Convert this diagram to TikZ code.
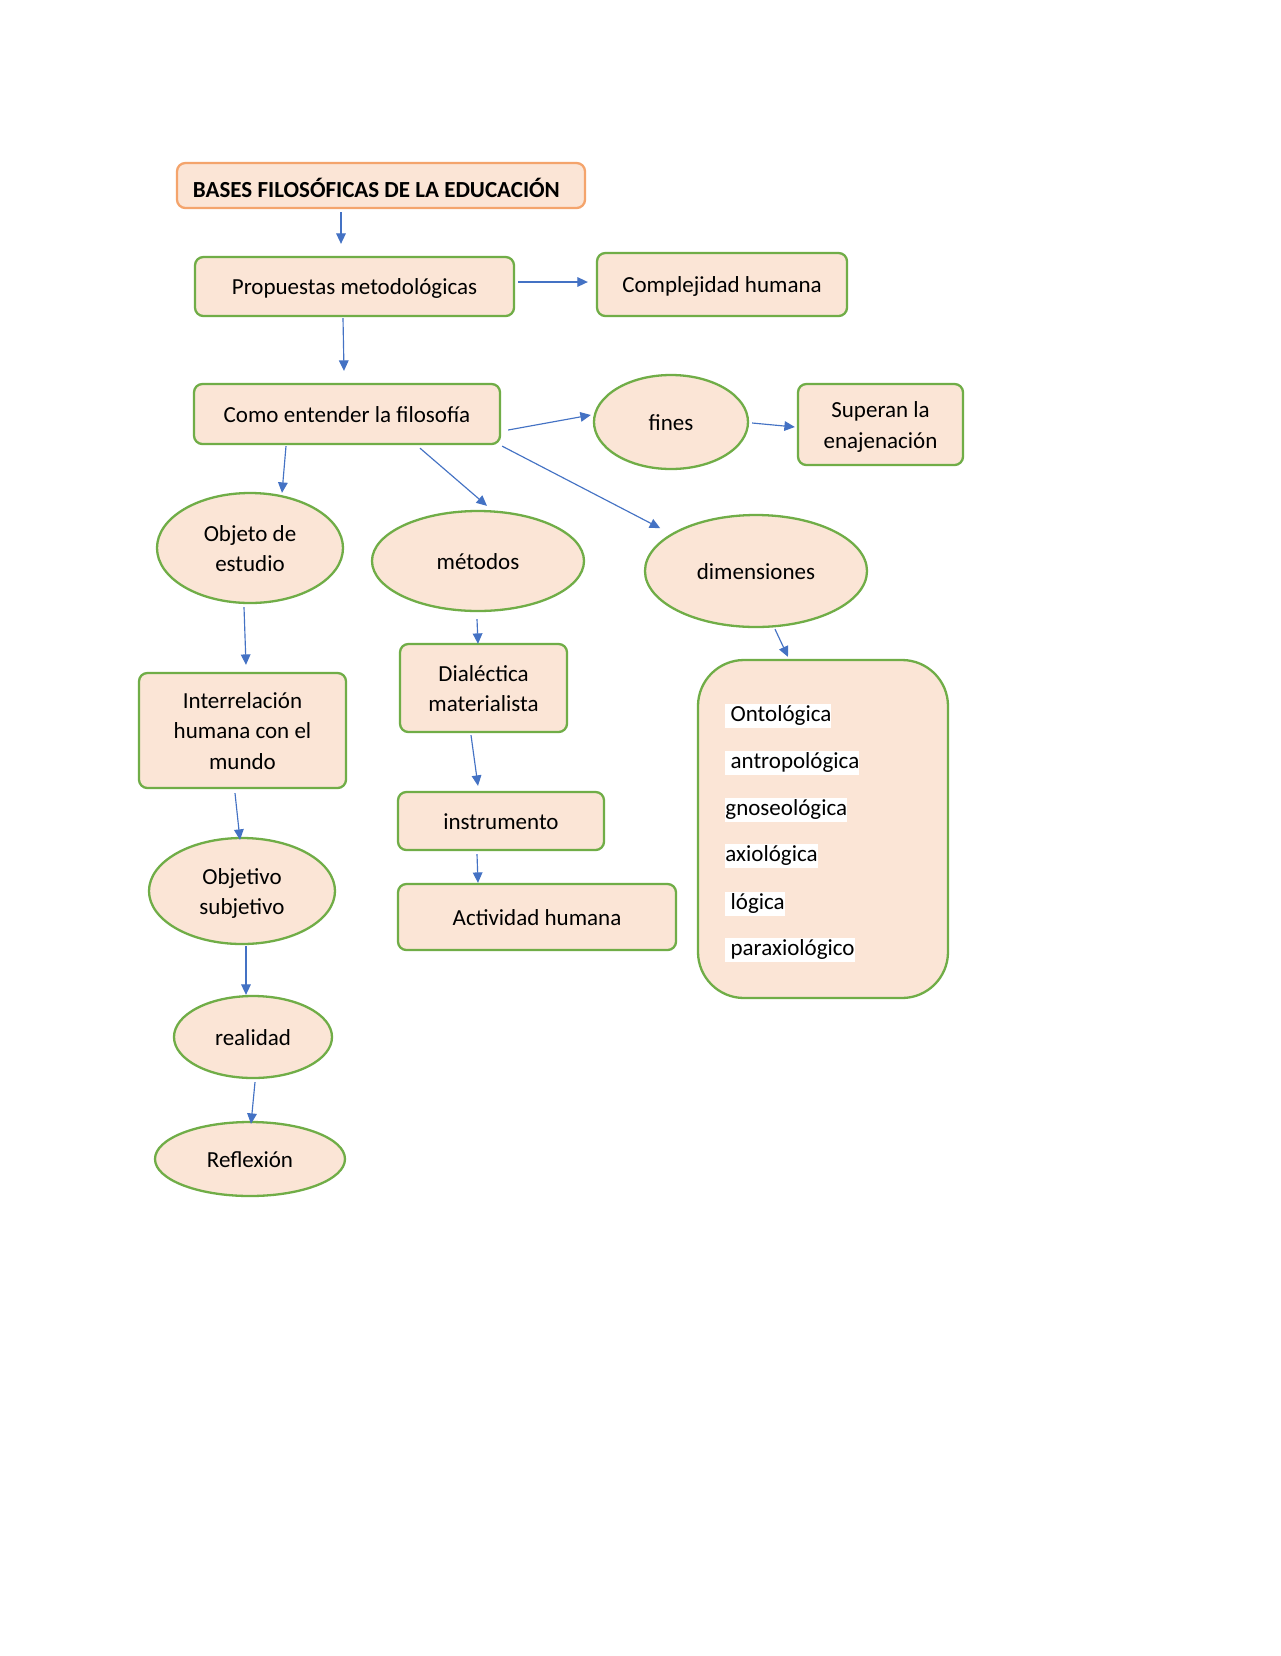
\documentclass[tikz,border=0pt]{standalone}
\usepackage{fontspec}
\setmainfont{Carlito}
\usetikzlibrary{shapes.geometric,arrows.meta,calc}
\newcommand{\px}{0.478125pt}
\newcommand{\T}[1]{\raisebox{-1.15pt}[\height][\depth]{\begin{tabular}{@{}c@{}}#1\end{tabular}}}
\definecolor{peach}{HTML}{FBE5D6}
\definecolor{ogreen}{HTML}{70AD47}
\definecolor{oorange}{HTML}{F4A46C}
\definecolor{oblue}{HTML}{4472C4}
\tikzset{
  base/.style={fill=peach, draw=ogreen, line width=1.1pt, font=\fontsize{11}{14.5}\selectfont, align=center, inner sep=0pt},
  rbox/.style={base, rectangle, rounded corners=4pt},
  ell/.style={base, ellipse},
  arr/.style={draw=oblue, line width=0.55pt, -{Triangle[length=5pt,width=4.6pt]}},
  item/.style={fill=white, anchor=west, inner sep=0pt, minimum height=24*\px, font=\fontsize{11}{13}\selectfont}
}
\begin{document}
\begin{tikzpicture}[x=\px, y=-\px]
\useasboundingbox[fill=white] (0,0) rectangle (1280,1656);

\node[rbox, draw=oorange, minimum width=408*\px, minimum height=45*\px] (title) at (381,185.5) {\raisebox{-1.15pt}[\height][\depth]{\makebox[179.8pt][l]{\bfseries BASES FILOSÓFICAS DE LA EDUCACIÓN}}};
\node[rbox, minimum width=319*\px, minimum height=59*\px] (prop) at (354.5,286.5) {\T{Propuestas metodológicas}};
\node[rbox, minimum width=250*\px, minimum height=63*\px] (comp) at (722,284.5) {\T{Complejidad humana}};
\node[rbox, minimum width=306*\px, minimum height=60*\px] (como) at (347,414) {\T{Como entender la filosofía}};
\node[ell, minimum width=154*\px, minimum height=94*\px] (fines) at (671,422) {\T{fines}};
\node[rbox, minimum width=165*\px, minimum height=81*\px] (sup) at (880.5,424.5) {\T{Superan la\\enajenación}};
\node[ell, minimum width=186*\px, minimum height=110*\px] (objeto) at (250,548) {\T{Objeto de\\estudio}};
\node[ell, minimum width=212*\px, minimum height=100*\px] (metodos) at (478,561) {\T{métodos}};
\node[ell, minimum width=222*\px, minimum height=112*\px] (dims) at (756,571) {\T{dimensiones}};
\node[base, rectangle, rounded corners=22pt, minimum width=250*\px, minimum height=338*\px] (dimbox) at (823,829) {};
\node[item] (i1) at (725,715.5) {\ Ontológica};
\node[item] (i2) at (725,762.5) {\ antropológica};
\node[item] (i3) at (725,809.5) {gnoseológica};
\node[item] (i4) at (725,855.5) {axiológica};
\node[item] (i5) at (725,903.5) {\ lógica};
\node[item] (i6) at (725,949.5) {\ paraxiológico};
\node[rbox, minimum width=207*\px, minimum height=115*\px] (inter) at (242.5,730.5) {\T{Interrelación\\humana con el\\mundo}};
\node[ell, minimum width=186*\px, minimum height=106*\px] (objetivo) at (242,891) {\T{Objetivo\\subjetivo}};
\node[ell, minimum width=158*\px, minimum height=82*\px] (realidad) at (253,1037) {\T{realidad}};
\node[ell, minimum width=190*\px, minimum height=74*\px] (reflexion) at (250,1159) {\T{Reflexión}};
\node[rbox, minimum width=167*\px, minimum height=88*\px] (dial) at (483.5,688) {\T{Dialéctica\\materialista}};
\node[rbox, minimum width=206*\px, minimum height=58*\px] (instr) at (501,821) {\T{instrumento}};
\node[rbox, minimum width=278*\px, minimum height=66*\px] (activ) at (537,917) {\T{Actividad humana}};

\draw[arr] ($(title.south)+(-40,3)$) -- ($(prop.north)+(-13.5,-12)$);
\draw[arr] ($(prop.east)+(3,-4.5)$) -- ($(comp.west)+(-8,-2.5)$);
\draw[arr] ($(prop.south)+(-11.5,1)$) -- ($(como.north)+(-3,-12)$);
\draw[arr] ($(como.east)+(7,16)$) -- ($(fines.west)+(-2,-7)$);
\draw[arr] ($(fines.east)+(3,1)$) -- ($(sup.west)+(-2,2.5)$);
\draw[arr] ($(como.south)+(-61,1)$) -- ($(objeto.north)+(32,1)$);
\draw[arr] ($(como.south)+(73,3)$) -- ($(metodos.north)+(9,-4)$);
\draw[arr] ($(como.south east)+(1,1)$) -- ($(dims.north west)+(-16.5,-2.4)$);
\draw[arr] ($(dims.south)+(19,1)$) -- ($(dimbox.north)+(-35,-2)$);
\draw[arr] ($(objeto.south)+(-6,3)$) -- ($(inter.north)+(3.5,-7)$);
\draw[arr] ($(inter.south)+(-7.5,4)$) -- ($(objetivo.north)+(-2,3)$);
\draw[arr] ($(objetivo.south)+(4,1)$) -- ($(realidad.north)+(-7,0)$);
\draw[arr] ($(realidad.south)+(2,3)$) -- ($(reflexion.north)+(1,3)$);
\draw[arr] ($(metodos.south)+(-1,7)$) -- ($(dial.north)+(-5.5,1)$);
\draw[arr] ($(dial.south)+(-12.5,2)$) -- ($(instr.north)+(-23,-5)$);
\draw[arr] ($(instr.south)+(-24,3)$) -- ($(activ.north)+(-59,0)$);
\end{tikzpicture}
\end{document}
